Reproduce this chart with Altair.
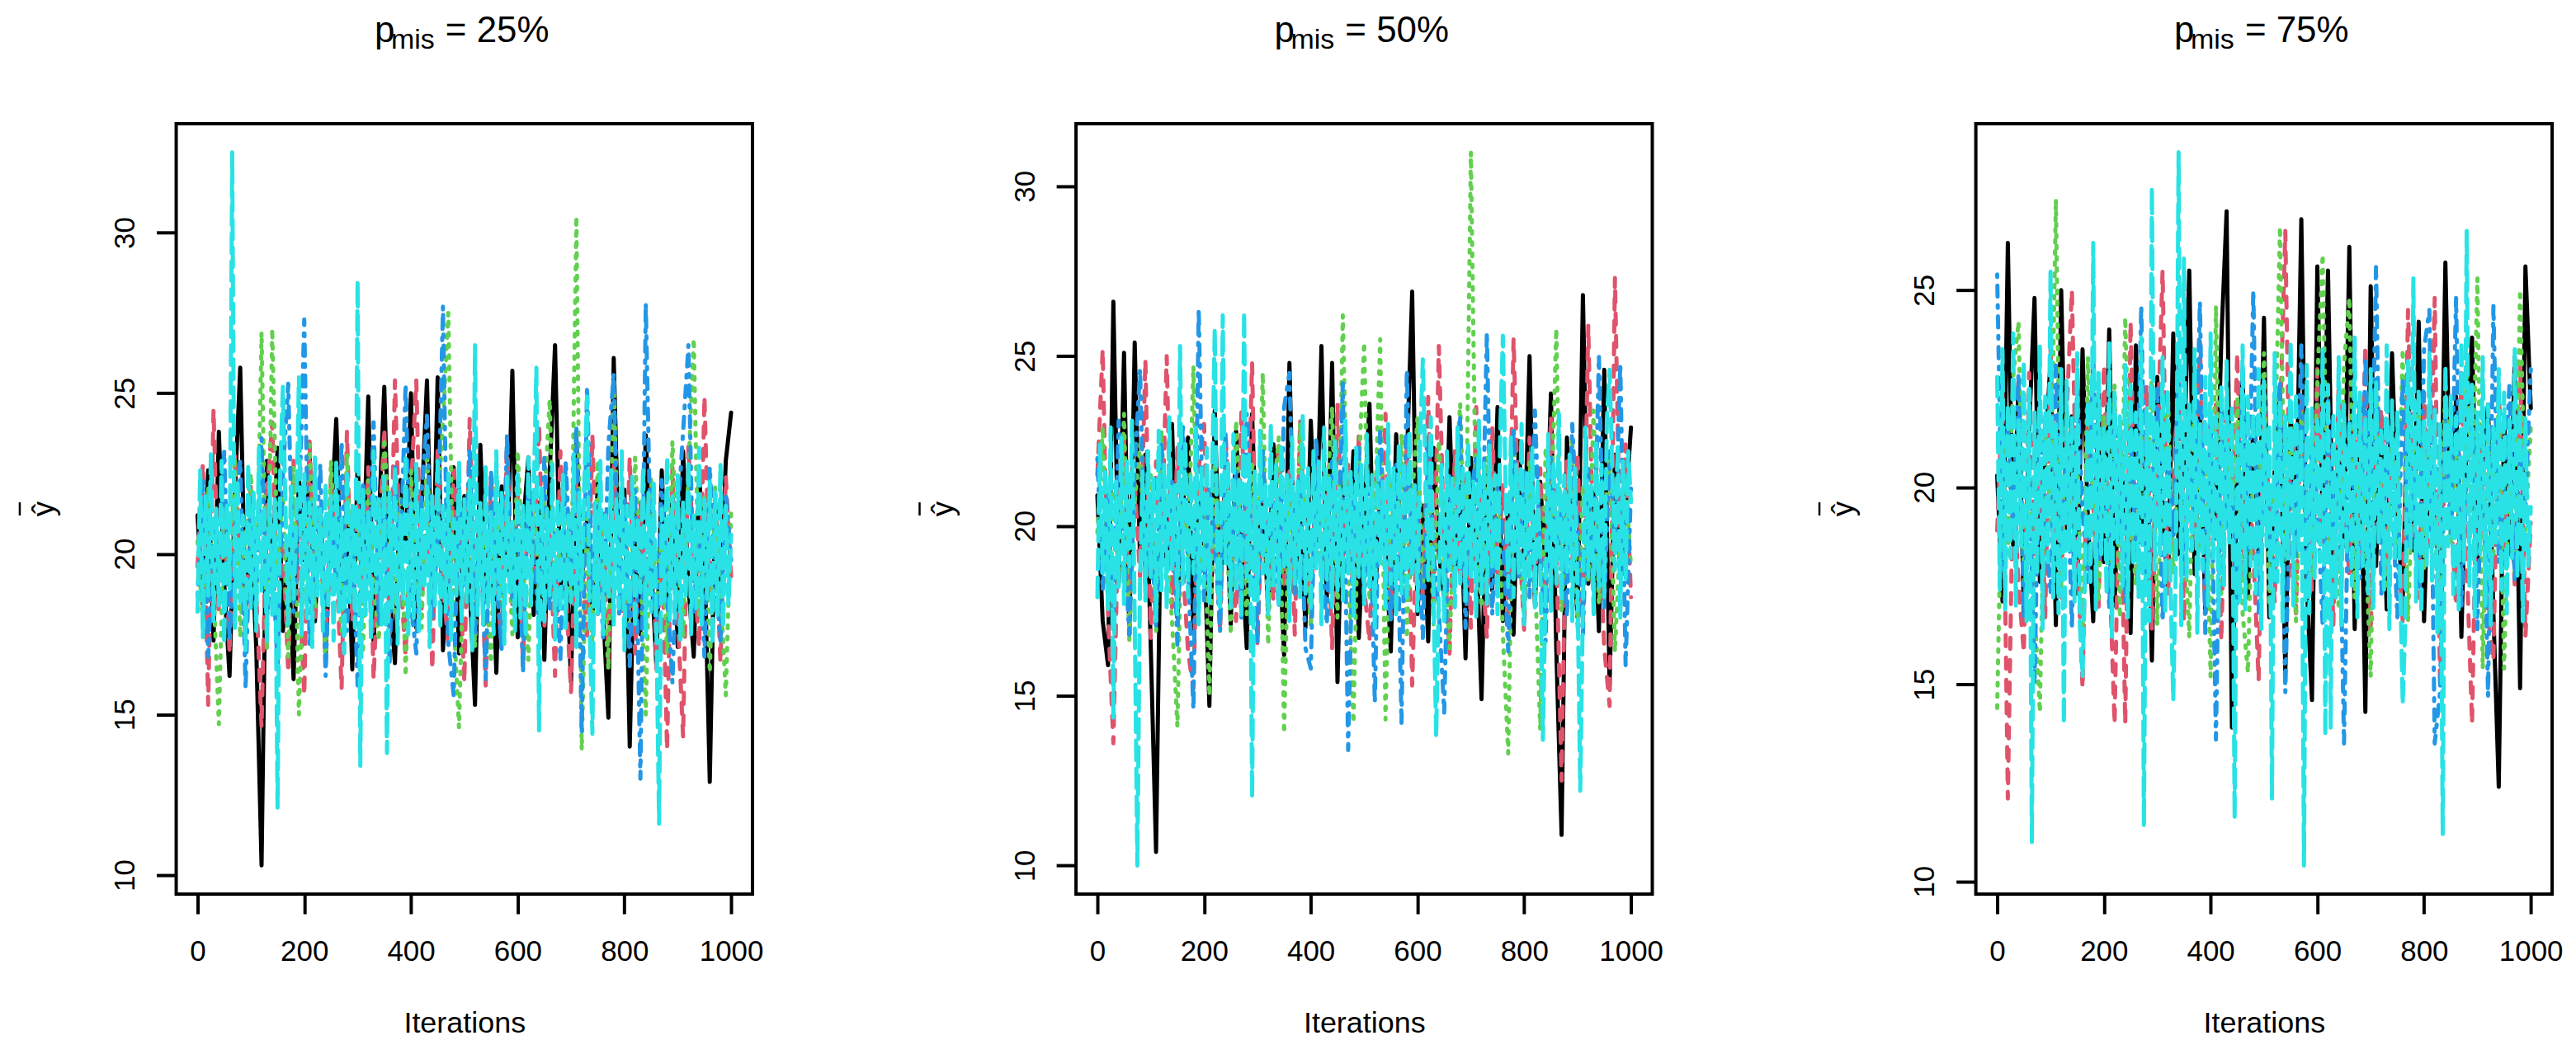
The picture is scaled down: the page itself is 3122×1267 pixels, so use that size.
import altair as alt
import pandas as pd

FONT = "Liberation Sans"

# ---------------- data ----------------
ITER_MAX = 1000
TITLES = ["25%", "50%", "75%"]
YTICKS = [[10, 15, 20, 25, 30], [10, 15, 20, 25, 30], [10, 15, 20, 25]]
YDOMAINS = [[9.41, 33.39], [9.16, 31.84], [9.68, 29.22]]
XTICKS = [0, 200, 400, 600, 800, 1000]

# panel 1: p_mis = 25%
B1 = [21.2,18.4,22.6,17.3,23.8,19.1,16.2,21.9,25.8,18.0,
      20.7,17.1,10.3,22.9,19.5,23.3,17.6,20.2,16.1,22.4,
      19.8,23.1,17.9,21.4,16.8,20.9,24.2,18.5,21.7,16.4,
      22.8,19.3,24.9,17.2,21.1,25.2,18.8,16.6,22.3,19.9,
      25.0,17.7,21.5,25.4,18.2,25.5,17.0,20.6,22.7,16.9,
      21.8,19.0,15.3,23.4,18.6,21.2,16.3,22.1,19.4,25.7,
      17.4,20.8,23.0,18.1,21.6,16.7,22.5,26.5,18.9,20.3,
      16.0,23.6,19.2,21.0,17.8,22.2,18.3,14.9,26.1,19.6,
      22.0,14.0,21.3,17.5,23.7,19.7,16.5,22.6,18.7,21.9,
      17.1,23.2,19.0,16.8,22.4,20.1,12.9,21.6,18.4,22.9,
      24.4]
R1 = [19.6,22.8,15.3,24.5,18.2,21.4,16.9,23.1,19.7,17.4,
      22.2,18.8,14.6,21.9,24.1,17.6,20.5,16.3,22.9,19.2,
      15.6,23.5,18.0,21.2,16.6,22.4,19.9,15.8,23.8,17.9,
      21.5,18.6,22.7,16.1,20.3,23.9,17.5,25.4,19.4,16.8,
      22.0,25.4,18.3,21.7,16.4,23.3,19.0,17.2,22.6,20.0,
      16.0,24.2,18.7,21.1,15.9,22.5,19.5,17.0,23.6,18.4,
      21.8,16.5,22.1,19.3,24.0,17.7,20.9,16.2,23.2,18.9,
      15.7,22.3,19.8,17.3,23.7,18.1,21.3,16.7,22.8,19.1,
      17.8,23.0,16.9,21.6,18.5,22.2,16.4,20.6,13.9,22.7,
      18.0,14.3,23.4,19.6,17.1,24.9,18.6,21.0,16.6,22.4,
      19.3]
G1 = [20.4,17.8,22.1,18.9,14.7,21.6,19.2,23.0,17.4,20.8,
      22.5,18.1,26.9,17.0,27.0,19.6,21.9,16.8,22.7,15.0,
      20.2,23.4,18.3,21.0,16.5,22.9,19.7,17.6,23.1,18.8,
      21.4,16.9,22.3,19.0,17.3,23.6,20.5,18.2,21.8,16.2,
      22.6,19.4,17.7,23.3,18.6,21.2,24.1,27.5,18.0,14.6,
      20.9,22.4,17.1,21.5,19.1,16.6,22.8,18.4,21.1,17.5,
      23.2,19.8,16.7,22.0,18.7,21.7,24.8,17.9,20.6,22.2,
      18.5,30.5,13.9,21.3,17.2,22.9,19.3,16.4,25.5,18.9,
      21.6,17.6,23.0,19.5,15.0,22.4,18.2,21.0,16.9,23.5,
      19.9,17.4,22.6,26.7,18.1,21.8,16.3,22.1,19.0,15.6,
      21.4]
BL1 = [18.7,22.3,16.8,21.1,19.4,23.2,17.3,20.6,22.9,15.8,
       21.7,18.5,23.6,17.9,20.2,16.4,22.5,25.3,18.2,21.0,
       27.3,17.1,19.8,22.8,16.2,21.4,18.9,23.5,17.6,20.9,
       15.9,22.2,19.2,24.1,17.8,21.6,16.6,22.7,19.6,25.3,
       18.4,16.9,21.9,24.3,18.0,20.4,27.7,17.2,15.6,22.1,
       19.0,23.3,17.5,21.2,16.1,22.6,19.3,17.0,23.7,18.6,
       21.5,16.3,22.4,19.9,17.7,23.0,18.3,20.7,16.7,22.9,
       19.1,24.0,14.4,25.2,18.8,21.3,17.4,23.4,25.6,18.1,
       21.8,16.5,22.0,13.0,27.8,19.5,17.6,22.3,18.7,16.0,
       21.2,23.8,26.5,18.2,20.8,16.8,22.7,19.4,17.3,21.9,
       19.8]
C1 = [18.2,22.6,17.4,21.8,18.7,23.1,17.9,21.4,18.4,22.9,
      17.2,21.6,18.9,32.5,17.7,22.3,18.5,21.2,17.0,22.8,
      18.3,21.9,17.6,23.3,18.8,21.5,17.3,22.4,18.1,21.7,
      12.1,22.7,25.2,21.3,17.8,22.1,18.6,21.0,25.5,17.5,
      22.5,18.0,21.6,17.1,23.0,18.7,21.4,17.6,22.2,18.4,
      21.8,17.3,22.9,18.2,21.1,16.9,22.6,18.5,21.5,17.7,
      28.5,13.4,22.0,18.1,21.3,17.4,23.2,18.8,21.7,17.8,
      22.4,13.8,21.9,18.3,22.7,17.2,21.2,18.6,23.1,17.5,
      21.6,18.0,22.8,17.6,21.4,18.9,22.1,17.1,21.8,18.4,
      23.0,17.7,21.5,18.2,22.5,17.3,21.1,18.7,22.9,17.9,
      21.7,18.5,22.3,17.0,26.5,18.1,21.6,17.8,22.7,18.3,
      21.3,17.5,23.2,18.6,21.9,17.2,22.4,18.8,21.0,17.6,
      22.6,18.0,21.5,17.4,23.0,18.4,21.8,25.8,14.5,22.1,
      17.9,21.4,18.7,22.8,17.3,21.7,18.2,22.5,17.7,21.2,
      18.5,23.1,17.1,21.9,18.9,22.3,24.9,17.6,14.4,21.6,
      18.1,22.9,17.5,21.3,18.6,22.6,17.8,21.7,18.3,23.2,
      17.0,21.5,18.4,22.4,17.7,21.1,18.8,22.7,17.4,21.9,
      18.2,22.2,17.6,11.6,21.4,18.5,23.0,17.9,21.8,18.0,
      22.5,17.3,21.6,18.7,22.9,17.5,21.2,18.3,23.3,17.8,
      21.7,18.6,22.3,17.2,21.9,18.1,22.8,17.7,21.5,18.4,
      20.6]

# panel 2: p_mis = 50%
B2 = [20.9,17.2,15.9,26.6,18.3,25.1,16.8,25.4,19.0,22.1,
      16.5,10.4,21.8,18.7,23.0,17.3,20.4,22.6,16.9,21.2,
      19.5,14.7,23.4,18.0,21.6,17.1,22.8,19.3,16.4,23.3,
      18.6,21.0,17.5,22.4,19.8,16.2,24.8,18.2,20.7,17.0,
      23.1,19.1,25.3,17.8,24.8,15.4,21.5,18.9,22.2,16.7,
      20.3,23.6,17.6,21.1,19.4,16.3,22.7,18.4,21.9,26.9,
      17.4,20.6,16.6,22.3,19.2,17.9,23.2,18.5,21.4,16.1,
      22.0,19.6,14.9,21.7,18.1,23.5,17.2,20.8,16.8,22.5,
      19.0,25.0,17.7,21.3,18.8,23.9,16.4,10.9,22.6,19.7,
      17.3,26.8,18.3,21.0,16.9,24.6,15.3,22.1,18.6,20.5,
      22.9]
R2 = [21.5,25.2,17.4,13.6,20.8,22.6,17.0,21.3,18.5,24.9,
      16.7,21.9,19.2,25.0,17.6,22.3,18.9,16.3,15.2,21.7,
      23.0,18.1,20.5,16.9,22.8,19.6,17.2,23.4,18.7,24.8,
      16.5,21.1,19.9,17.8,22.5,18.3,21.6,16.8,23.1,19.4,
      17.1,22.0,18.6,20.9,16.4,23.6,19.0,21.8,17.5,22.7,
      18.2,16.6,21.4,19.7,23.3,17.3,20.6,18.8,22.4,15.3,
      21.0,18.0,23.8,17.7,25.3,19.3,16.2,22.2,18.4,21.5,
      17.0,23.5,19.1,16.7,22.9,18.6,21.2,17.4,25.5,19.8,
      16.9,22.6,18.2,21.7,17.6,23.2,19.5,12.5,21.9,18.9,
      22.1,17.2,25.9,18.5,20.4,16.4,14.7,27.3,19.0,22.4,
      17.9]
G2 = [19.8,22.9,17.5,21.2,18.3,23.3,16.6,20.7,22.4,18.0,
      21.5,16.9,22.8,19.4,17.2,14.1,21.8,19.1,24.7,17.7,
      20.4,15.0,22.2,18.6,21.0,16.8,23.1,19.3,17.4,21.9,
      18.8,24.5,16.5,20.9,22.6,13.9,21.4,18.1,23.0,19.6,
      17.0,22.3,18.5,20.6,23.5,17.3,26.2,19.0,14.2,21.6,
      25.4,17.8,20.2,25.5,14.3,21.3,18.7,22.7,16.7,20.8,
      23.2,18.2,21.7,17.1,22.5,19.2,16.4,21.1,23.6,18.4,
      31.0,19.7,17.6,22.0,18.9,21.5,16.8,13.3,22.8,19.5,
      17.2,21.9,18.6,14.0,22.3,19.9,25.8,17.5,20.5,22.6,
      16.9,21.2,18.3,23.4,17.7,20.0,22.1,16.3,19.8,21.4,
      18.8]
BL2 = [22.0,18.1,20.9,17.4,23.1,19.5,16.8,21.7,24.6,18.3,
       20.4,17.0,22.5,19.1,21.3,16.5,23.0,18.7,14.6,26.4,
       17.8,21.1,19.6,16.9,22.7,18.4,21.6,17.3,23.3,19.0,
       16.6,22.2,18.8,20.7,17.6,23.5,24.5,18.0,21.4,16.4,
       15.8,22.6,19.3,17.1,21.9,18.5,24.2,13.4,20.6,22.3,
       17.7,21.0,14.8,22.8,19.4,17.2,21.8,14.2,24.6,18.6,
       20.3,16.7,22.4,19.2,17.5,14.5,21.5,18.9,23.2,17.0,
       20.8,22.1,18.2,25.7,17.4,21.2,19.7,16.3,22.9,18.4,
       21.6,17.9,23.4,19.1,16.6,22.0,18.7,20.5,17.3,23.0,
       19.8,16.8,21.7,18.1,25.0,17.6,22.2,19.3,24.8,15.9,
       21.1]
C2 = [17.9,22.4,18.6,21.7,17.5,22.9,14.3,21.3,18.2,22.6,
      17.7,21.9,18.8,23.1,17.3,10.0,18.4,21.6,17.8,22.2,
      18.5,21.4,17.2,22.8,18.1,21.8,17.6,23.2,18.7,21.2,
      17.4,25.3,18.3,22.5,17.9,21.5,18.6,22.9,17.1,21.7,
      18.2,22.3,17.7,21.3,25.8,18.4,17.5,26.2,18.9,21.9,
      17.6,22.7,18.1,21.4,17.3,26.3,18.5,22.1,12.0,21.6,
      17.8,22.8,18.6,21.2,17.4,23.0,18.2,21.8,17.7,22.4,
      18.8,21.5,17.2,22.6,18.3,21.3,17.9,23.3,18.0,21.7,
      17.5,22.2,18.7,21.9,17.1,22.9,18.4,21.4,17.6,22.5,
      18.1,21.1,17.8,23.1,18.6,21.6,17.3,22.3,18.5,21.8,
      17.7,22.7,18.2,21.5,17.0,22.1,18.9,21.3,17.6,23.0,
      18.3,21.7,17.4,22.4,18.0,21.9,17.8,22.8,18.6,21.2,
      17.5,22.6,24.9,21.6,18.4,23.2,17.9,13.8,18.1,21.8,
      17.2,22.2,18.7,21.4,17.6,22.9,18.3,21.7,17.8,22.5,
      18.5,21.3,17.3,23.1,18.0,21.9,17.7,22.4,18.8,21.5,
      17.4,22.8,25.6,21.2,18.2,22.6,17.9,21.8,18.6,23.0,
      17.1,21.6,18.4,22.3,17.6,21.4,18.9,13.7,18.1,22.7,
      17.5,21.9,18.3,23.3,17.8,21.5,18.6,22.1,17.2,21.7,
      18.0,12.2,17.7,22.9,18.5,21.3,17.4,22.5,18.2,21.8,
      17.9,23.2,24.6,21.6,18.7,22.4,17.3,21.9,18.4,22.2,
      20.7]

# panel 3: p_mis = 75%
B3 = [20.3,17.1,26.2,18.4,22.7,16.8,21.5,24.8,17.6,20.9,
      23.2,16.5,25.0,18.9,21.8,17.3,23.5,19.2,16.6,22.4,
      18.1,24.0,17.0,21.1,19.7,16.3,23.6,18.6,21.4,15.6,
      22.8,19.4,17.4,23.9,18.3,20.6,25.5,17.8,22.0,16.9,
      21.2,18.7,23.7,27.0,13.9,20.8,22.9,17.2,21.7,18.2,
      24.3,16.7,20.4,22.5,15.3,21.9,18.8,26.8,17.5,14.6,
      25.6,19.0,25.5,17.7,21.3,18.5,26.1,16.4,22.2,14.3,
      25.1,18.0,21.6,16.9,23.4,19.3,17.1,22.6,18.4,24.2,
      16.6,21.0,19.6,17.3,25.7,18.9,22.3,16.2,21.5,23.8,
      17.9,20.7,22.1,16.8,12.4,21.8,18.3,23.3,14.9,25.6,
      22.0]
R3 = [18.9,22.4,12.1,20.6,17.5,15.8,22.9,18.3,21.1,16.7,
      23.5,19.0,17.2,21.8,25.0,18.5,14.9,22.2,19.6,16.9,
      23.1,18.1,14.0,21.4,14.0,24.2,17.8,20.5,22.6,16.4,
      21.0,25.5,17.3,19.8,22.8,16.6,21.3,18.7,23.7,17.0,
      20.2,22.1,16.1,21.7,19.1,23.4,17.6,20.9,18.4,15.1,
      22.5,19.3,17.1,21.6,26.5,18.0,16.8,22.3,19.5,17.4,
      23.0,18.6,21.2,16.5,22.7,19.9,17.7,21.5,18.2,23.6,
      16.3,20.8,22.0,17.9,21.1,18.8,16.6,24.5,19.2,17.2,
      22.4,18.5,24.8,14.9,21.9,19.4,17.0,22.9,18.1,14.0,
      21.6,19.7,16.7,15.6,22.6,18.3,20.4,17.5,23.2,16.2,
      19.1]
G3 = [14.4,21.5,18.2,22.8,24.2,17.6,20.3,16.9,14.3,21.7,
      19.1,27.3,17.4,22.1,18.6,20.9,16.4,23.3,19.5,17.1,
      21.8,18.0,22.6,16.7,24.3,19.2,17.5,21.3,18.8,23.0,
      16.5,20.6,22.4,17.8,21.1,19.0,16.2,22.9,18.4,20.7,
      15.2,24.6,17.3,21.6,18.9,22.3,16.8,15.3,21.0,19.7,
      23.4,17.0,20.5,26.6,18.1,22.0,16.6,21.9,19.3,17.7,
      22.7,25.9,18.5,20.1,16.9,23.1,24.8,17.2,21.4,18.7,
      15.2,22.5,19.6,17.4,21.2,18.3,23.5,16.6,20.8,22.2,
      17.9,21.7,19.0,16.3,22.8,18.6,21.0,17.5,23.2,19.4,
      25.3,15.4,21.3,18.2,22.4,15.4,20.6,17.8,25.0,18.9,
      21.5]
BL3 = [25.4,17.9,21.6,18.8,22.9,16.7,20.4,15.0,22.2,19.0,
       17.3,23.1,18.5,21.2,16.4,22.6,19.4,17.6,23.4,18.1,
       20.8,16.9,22.0,19.7,17.1,21.5,18.3,24.6,17.4,20.2,
       22.5,16.6,21.0,18.7,23.2,17.8,20.6,19.2,24.7,16.3,
       21.9,13.6,22.4,18.9,20.1,17.0,23.0,18.4,25.0,16.8,
       21.4,19.1,17.5,22.7,14.8,20.7,18.2,23.6,17.2,21.1,
       19.6,16.5,22.3,18.6,20.9,13.5,21.7,19.3,17.7,23.3,
       18.0,25.6,17.3,21.3,19.8,16.7,22.8,18.5,20.5,17.4,
       23.5,24.5,13.5,14.8,21.8,18.8,24.8,17.0,20.3,22.1,
       16.4,21.6,14.7,24.6,18.1,20.0,22.6,17.6,21.2,19.5,
       23.0]
C3 = [22.8,17.4,23.5,16.9,22.1,18.2,23.9,17.0,21.7,18.5,
      23.2,16.6,22.5,11.0,21.9,17.8,23.6,16.4,22.3,18.1,
      25.5,17.2,21.6,16.8,23.0,14.0,22.7,18.4,21.8,17.1,
      23.4,16.5,15.2,18.0,22.2,17.6,26.2,16.9,22.9,18.3,
      21.5,17.3,23.7,16.2,22.4,18.6,21.8,17.5,23.1,16.7,
      22.6,18.0,21.9,17.2,23.8,11.4,22.0,16.6,27.6,17.9,
      21.7,18.3,23.3,16.8,22.5,17.4,14.6,18.1,28.5,16.5,
      25.8,17.7,22.1,18.4,23.5,16.3,21.6,17.9,22.8,17.0,
      23.9,18.2,21.8,16.7,22.6,17.5,23.2,18.6,22.0,11.6,
      21.5,17.1,23.6,16.9,22.3,18.0,21.9,17.3,23.0,16.4,
      22.7,18.5,21.6,12.1,23.4,17.6,22.2,16.6,21.8,18.2,
      23.7,17.0,22.4,18.4,21.5,10.4,23.1,16.8,22.0,17.7,
      21.7,18.1,23.5,13.7,22.6,13.9,21.9,17.2,23.3,16.5,
      22.1,18.3,21.6,17.5,23.8,16.7,22.4,18.0,21.8,17.3,
      23.0,16.9,22.7,18.6,21.5,17.4,23.6,16.4,22.2,18.2,
      21.9,17.8,14.5,16.6,23.2,18.4,25.3,17.1,22.5,16.8,
      21.7,18.0,23.4,17.6,22.0,16.3,21.6,11.2,23.1,18.5,
      22.3,17.2,21.8,16.9,23.7,18.1,26.5,17.5,22.6,16.7,
      21.9,18.3,23.3,17.0,22.1,16.5,21.5,18.6,23.0,17.4,
      22.4,16.8,21.7,18.2,23.5,17.7,22.0,16.6,21.8,18.0,
      19.5]

PANEL_CHAINS = [[B1, R1, G1, BL1, C1], [B2, R2, G2, BL2, C2], [B3, R3, G3, BL3, C3]]

# R palette / line types (black solid, red dashed, green dotted, blue dotdash, cyan longdash)
COLORS = ["#000000", "#DF536B", "#61D04F", "#2297E6", "#28E2E5"]
DASHES = [None, [13.6, 13.6], [3.4, 10.2], [3.4, 10.2, 13.6, 10.2], [24, 10]]

W, H = 700, 936


def chain_frame(vals):
    n = len(vals)
    return pd.DataFrame({"iter": [i * ITER_MAX / (n - 1) for i in range(n)], "value": vals})


def make_panel(k):
    xaxis = alt.Axis(values=XTICKS, format="d", title="Iterations", grid=False, domain=False,
                     tickSize=24, tickWidth=4, tickColor="black",
                     labelFont=FONT, labelFontSize=35, labelColor="black",
                     labelBaseline="alphabetic", labelAlign="center", labelPadding=57,
                     labelFlush=False, labelOverlap=False,
                     titleFont=FONT, titleFontSize=36, titleFontWeight="normal", titleColor="black",
                     titleX=W / 2, titleY=168, titleAlign="center", titleBaseline="alphabetic")
    yaxis = alt.Axis(values=YTICKS[k], format="d", title="", grid=False, domain=False,
                     tickSize=24, tickWidth=4, tickColor="black",
                     labelFont=FONT, labelFontSize=35, labelColor="black", labelAngle=270,
                     labelAlign="center", labelBaseline="alphabetic", labelPadding=27,
                     labelFlush=False, labelOverlap=False)
    layers = []
    for vals, col, dash in zip(PANEL_CHAINS[k], COLORS, DASHES):
        kw = dict(color=col, strokeWidth=5, strokeCap="round", strokeJoin="round", clip=True)
        if dash:
            kw["strokeDash"] = dash
        layers.append(
            alt.Chart(chain_frame(vals)).mark_line(**kw).encode(
                x=alt.X("iter:Q", scale=alt.Scale(domain=[-40, 1040], nice=False, zero=False), axis=xaxis),
                y=alt.Y("value:Q", scale=alt.Scale(domain=YDOMAINS[k], nice=False, zero=False), axis=yaxis),
                order=alt.Order("iter:Q"),
            )
        )
    # title  p_mis = NN%
    parts = [("p", 241, -99, 44), ("mis", 261, -91, 34), ("= " + TITLES[k], 327, -99, 44)]
    for txt, xp, yp, fs in parts:
        layers.append(
            alt.Chart(pd.DataFrame({"t": [txt]})).mark_text(
                align="left", baseline="alphabetic", font=FONT, fontSize=fs, color="black"
            ).encode(x=alt.value(xp), y=alt.value(yp), text="t:N")
        )
    # y axis title: y with hat and bar (rotated like R's mtext)
    layers.append(
        alt.Chart(pd.DataFrame({"t": ["\u0177"]})).mark_text(
            align="center", baseline="alphabetic", font=FONT, fontSize=37, angle=270, color="black"
        ).encode(x=alt.value(-149), y=alt.value(H / 2), text="t:N")
    )
    layers.append(
        alt.Chart(pd.DataFrame({"t": ["bar"]})).mark_rule(color="black", strokeWidth=2.5).encode(
            x=alt.value(-190), y=alt.value(H / 2 - 8), y2=alt.value(H / 2 + 8)
        )
    )
    return alt.layer(*layers).properties(width=W, height=H)


chart = alt.hconcat(
    make_panel(0), make_panel(1), make_panel(2),
    spacing=393, bounds="flush",
    padding={"left": 12, "top": 5, "right": 5, "bottom": 5},
    background="white",
).configure_view(stroke="black", strokeWidth=4)

chart.save("out.html", embed_options={"renderer": "svg", "actions": False})
